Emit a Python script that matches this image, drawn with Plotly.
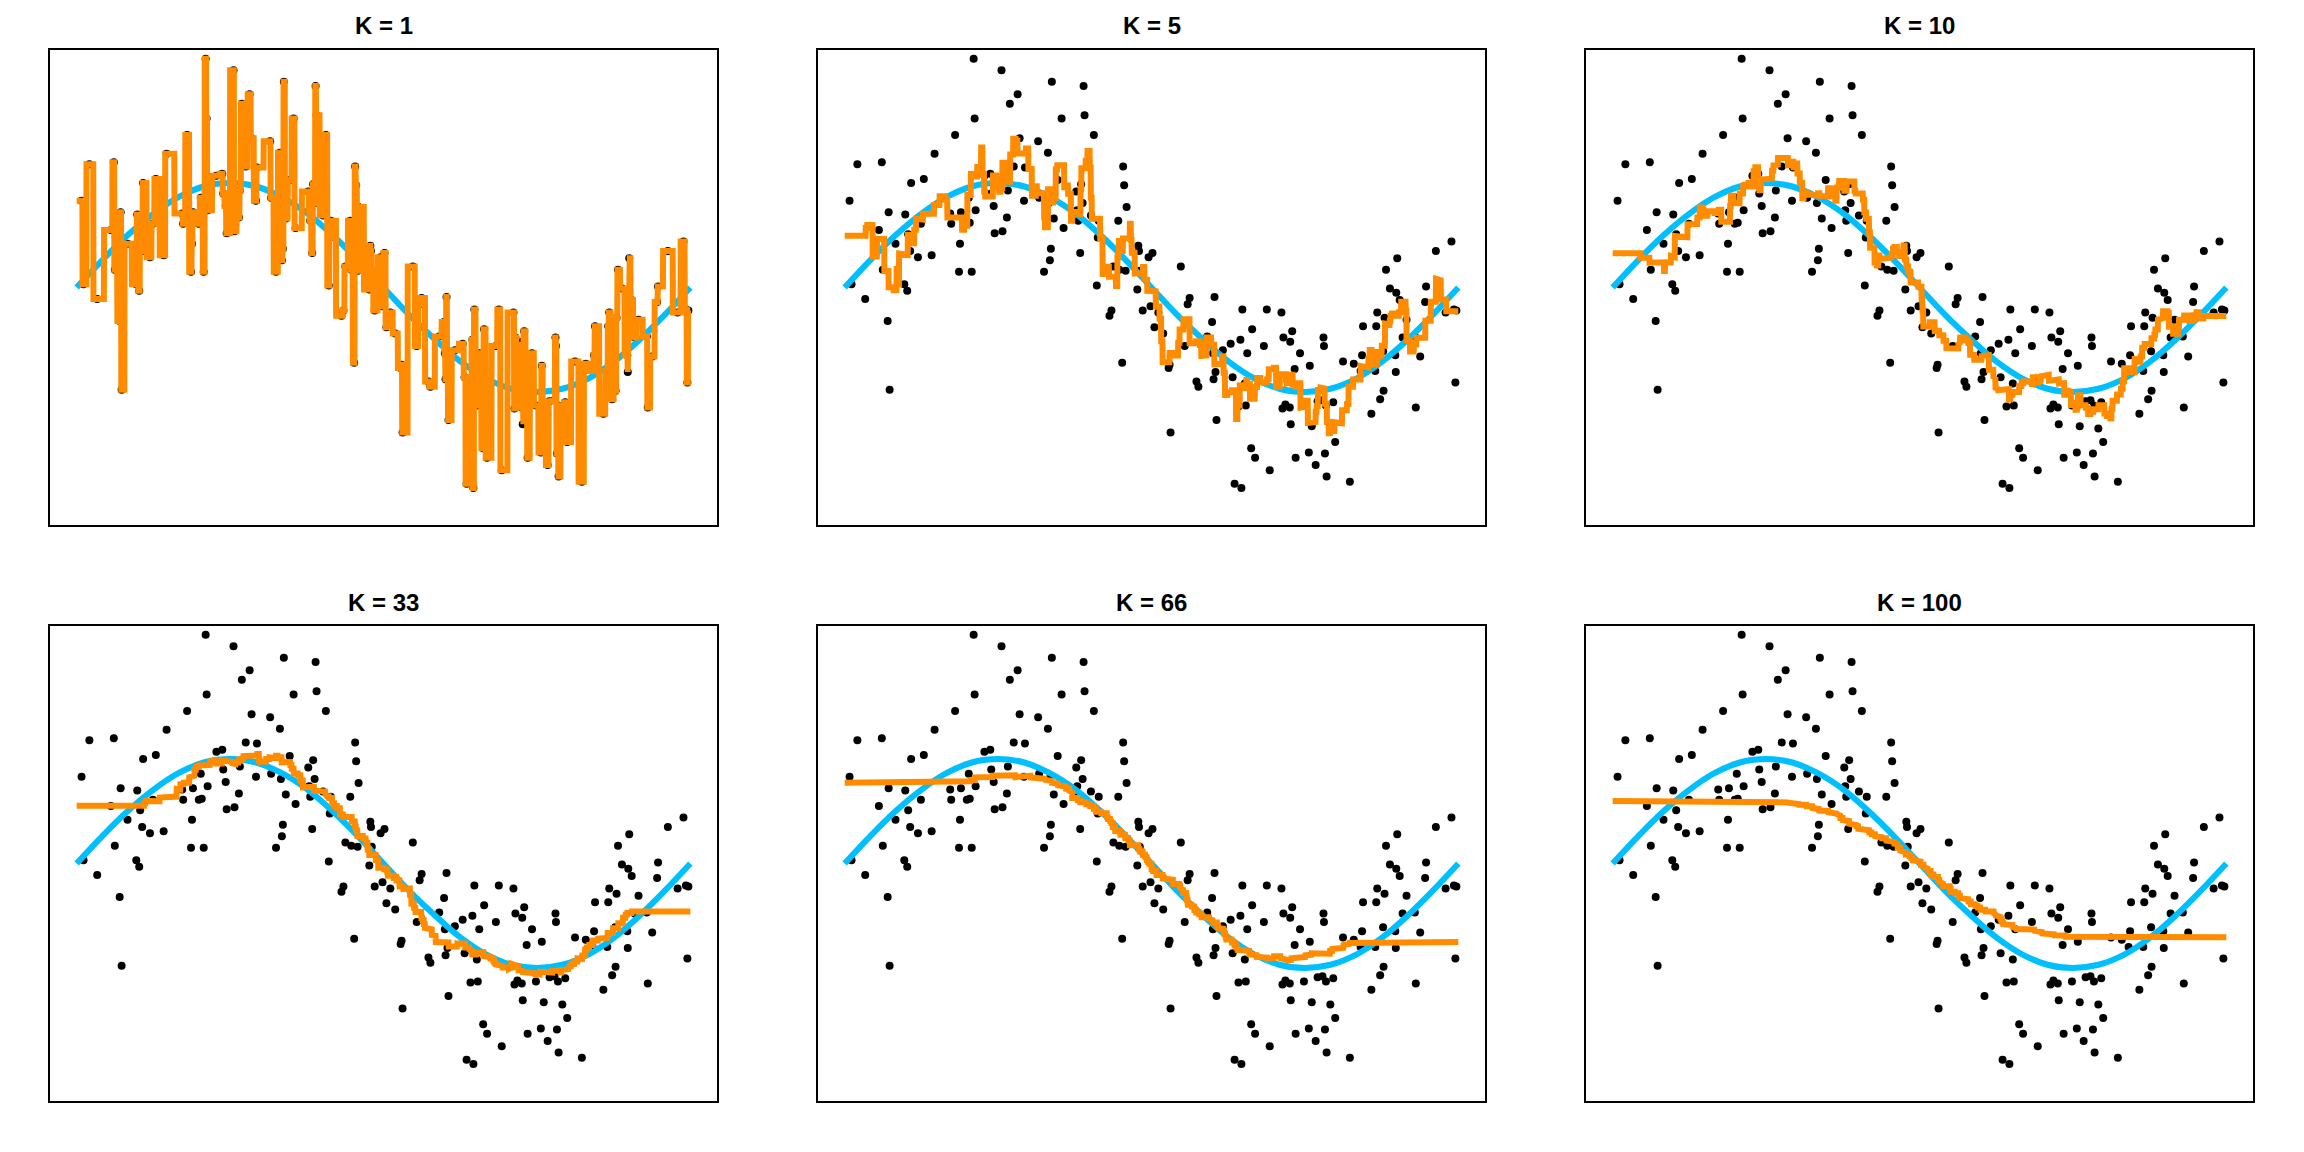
import numpy as np
import plotly.graph_objects as go

x_obs = [0.05, 0.07, 0.13, 0.21, 0.35, 0.38, 0.39, 0.44, 0.45, 0.46,
         0.52, 0.61, 0.62, 0.64, 0.65, 0.67, 0.68, 0.75, 0.78, 0.81,
         0.89, 0.92, 1.08, 1.09, 1.13, 1.17, 1.18, 1.19, 1.25, 1.27,
         1.28, 1.30, 1.32, 1.33, 1.34, 1.43, 1.49, 1.50, 1.525, 1.535,
         1.605, 1.615, 1.66, 1.67, 1.69, 1.73, 1.77, 1.79, 1.835, 1.845,
         1.98, 1.99, 2.04, 2.08, 2.09, 2.10, 2.11, 2.12, 2.14, 2.18,
         2.22, 2.24, 2.37, 2.38, 2.39, 2.41, 2.42, 2.435, 2.445, 2.455,
         2.52, 2.55, 2.58, 2.59, 2.60, 2.71, 2.73, 2.75, 2.80, 2.81,
         2.84, 2.85, 2.86, 2.875, 2.885, 2.995, 3.005, 3.012, 3.02, 3.05,
         3.11, 3.13, 3.15, 3.17, 3.21, 3.26, 3.315, 3.325, 3.335, 3.44,
         3.48, 3.51, 3.53, 3.60, 3.62, 3.71, 3.76, 3.768, 3.775, 3.785,
         3.795, 3.805, 3.87, 3.95, 3.97, 3.99, 4.03, 4.05, 4.06, 4.07,
         4.095, 4.105, 4.12, 4.16, 4.17, 4.20, 4.29, 4.32, 4.35, 4.47,
         4.48, 4.49, 4.51, 4.555, 4.56, 4.565, 4.58, 4.605, 4.615, 4.66,
         4.70, 4.75, 4.76, 4.78, 4.82, 4.84, 4.89, 4.90, 4.905, 4.915,
         4.925, 4.932, 4.97, 5.00, 5.02, 5.10, 5.17, 5.21, 5.28, 5.295,
         5.305, 5.39, 5.43, 5.44, 5.45, 5.48, 5.51, 5.515, 5.525, 5.54,
         5.58, 5.635, 5.64, 5.645, 5.655, 5.68, 5.71, 5.75, 5.835, 5.845,
         5.89, 5.94, 5.95, 6.05, 6.15, 6.21, 6.235, 6.25, 6.26]
y_obs = [0.83, 0.03, 1.18, -0.11, 0.55, 1.20, 0.17, -0.32, 0.72, -0.98,
         0.42, 0.03, 0.70, -0.03, 0.51, 0.35, 1.00, 0.29, 0.61, 1.04,
         0.31, 1.28, 0.71, 0.61, 1.46, 0.15, 0.42, 0.72, 0.61, 0.86,
         0.62, 0.15, 2.19, 1.62, 0.74, 1.07, 1.09, 0.90, 0.78, 0.52,
         2.08, 0.54, 0.67, 0.93, 1.76, 1.16, 1.85, 1.43, 0.83, 1.15,
         1.40, 0.86, 0.15, 1.29, 0.81, 0.26, 0.37, 1.97, 0.66, 1.03,
         1.62, 0.57, 0.92, 0.74, 0.64, 0.33, 0.99, 0.81, 1.93, 1.65,
         0.69, 1.46, 0.02, 0.48, 0.64, -0.27, -0.22, 0.20, 0.64, 0.17,
         -0.72, 1.16, 0.98, 0.16, 0.77, -0.02, 0.40, 0.35, 0.16, -0.22,
         0.29, -0.18, 0.33, -0.38, -0.24, -0.44, -0.77, -0.74, -1.39, 0.20,
         -0.56, -0.16, -0.10, -0.90, -0.95, -0.47, -0.33, -0.63, -0.88, -0.09,
         -0.81, -1.27, -0.60, -0.54, -0.86, -1.88, -1.14, -0.50, -1.92, -0.21,
         -0.92, -1.13, -0.63, -1.54, -0.40, -1.63, -0.56, -0.21, -1.75, -0.24,
         -1.16, -0.48, -1.12, -1.15, -0.52, -1.31, -0.42, -0.78, -1.63, -0.63,
         -1.13, -1.58, -0.75, -1.33, -1.70, -1.09, -1.08, -0.48, -0.56, -1.59,
         -1.13, -1.81, -1.35, -1.10, -1.48, -0.71, -1.86, -0.73, -0.80, -0.65,
         -0.37, -1.21, -0.80, -0.37, -0.24, -1.07, -0.61, -0.99, -0.29, 0.17,
         -0.01, -0.65, -0.81, -0.05, 0.28, -0.12, -0.48, -0.31, -0.47, -1.15,
         -0.66, -0.14, 0.01, 0.35, -0.24, 0.44, -0.21, -0.91, -0.22]

# true regression function, sampled from the blue curve
true_x = [0.00, 0.26, 0.52, 0.79, 1.05, 1.31, 1.57, 1.83, 2.09, 2.36, 2.62, 2.88, 3.14,
          3.40, 3.67, 3.93, 4.19, 4.45, 4.71, 4.97, 5.24, 5.50, 5.76, 6.02, 6.28]
true_y = [0.00, 0.26, 0.50, 0.71, 0.87, 0.97, 1.00, 0.97, 0.87, 0.71, 0.50, 0.26, 0.00,
          -0.26, -0.50, -0.71, -0.87, -0.97, -1.00, -0.97, -0.87, -0.71, -0.50, -0.26, 0.00]

k_values = [1, 5, 10, 33, 66, 100]


def knn_fit(x, y, grid, k):
    """Average of the k nearest observed y for every grid location."""
    x = np.asarray(x)
    y = np.asarray(y)
    fit = []
    for g in grid:
        idx = np.argsort(np.abs(x - g), kind="stable")[:k]
        fit.append(y[idx].mean())
    return np.array(fit)


# the page body has an 8px margin, so the figure is shrunk and shifted by it
OFF = 8
W, H = 2304 - OFF, 1152 - OFF
col_px = [(50, 717), (818, 1485), (1586, 2253)]
row_px = [(50, 525), (626, 1101)]

x_lo, x_hi = min(true_x), max(true_x)
x_pad = (x_hi - x_lo) * 0.04 / 0.92
x_range = [x_lo - x_pad, x_hi + x_pad]
y_range = [-2.275, 2.275]

grid = np.linspace(x_lo, x_hi, 3000)

fig = go.Figure()
annotations = []
layout = {}

for i, k in enumerate(k_values):
    r, c = divmod(i, 3)
    xa = "x" if i == 0 else f"x{i + 1}"
    ya = "y" if i == 0 else f"y{i + 1}"

    fig.add_trace(go.Scatter(x=x_obs, y=y_obs, mode="markers", xaxis=xa, yaxis=ya,
                             marker=dict(color="black", size=8), hoverinfo="skip"))
    fig.add_trace(go.Scatter(x=true_x, y=true_y, mode="lines", xaxis=xa, yaxis=ya,
                             line=dict(color="#00BFFF", width=6, shape="spline")))
    fig.add_trace(go.Scatter(x=grid, y=knn_fit(x_obs, y_obs, grid, k), mode="lines",
                             xaxis=xa, yaxis=ya,
                             line=dict(color="#FF8C00", width=6)))

    left, right = col_px[c][0] - OFF, col_px[c][1] - OFF
    top, bottom = row_px[r][0] - OFF, row_px[r][1] - OFF
    axis_style = dict(showgrid=False, zeroline=False, showticklabels=False, ticks="",
                      showline=True, mirror=True, linecolor="black", linewidth=2)
    layout["xaxis" if i == 0 else f"xaxis{i + 1}"] = dict(
        domain=[left / W, right / W], range=x_range, anchor=ya, **axis_style)
    layout["yaxis" if i == 0 else f"yaxis{i + 1}"] = dict(
        domain=[1 - bottom / H, 1 - top / H], range=y_range, anchor=xa, **axis_style)

    annotations.append(dict(
        text=f"<b>K = {k}</b>", x=(left + right) / 2 / W, y=1 - (top - 24) / H,
        xref="paper", yref="paper", xanchor="center", yanchor="middle", showarrow=False,
        font=dict(family="Liberation Sans, Arial, sans-serif", size=24, color="black")))

fig.update_layout(
    width=W, height=H,
    margin=dict(l=0, r=0, t=0, b=0),
    paper_bgcolor="white", plot_bgcolor="white",
    showlegend=False,
    annotations=annotations,
    **layout,
)

fig.write_html("out.html")
